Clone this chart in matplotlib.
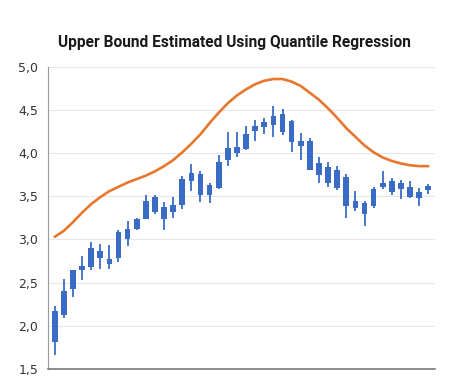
import matplotlib
matplotlib.use("Agg")
import matplotlib.pyplot as plt
import numpy as np
from matplotlib.ticker import FuncFormatter

# candle data (one entry per period)
body_low = [1.81, 2.12, 2.42, 2.65, 2.68, 2.78, 2.72, 2.78, 3.00, 3.12, 3.24, 3.32,
            3.24, 3.32, 3.40, 3.68, 3.52, 3.51, 3.60, 3.92, 4.00, 4.05, 4.26, 4.30,
            4.33, 4.24, 4.13, 4.08, 3.81, 3.75, 3.66, 3.60, 3.39, 3.36, 3.29, 3.39,
            3.61, 3.55, 3.58, 3.49, 3.48, 3.57]
body_high = [2.17, 2.40, 2.64, 2.69, 2.90, 2.87, 2.77, 3.09, 3.12, 3.24, 3.45, 3.49,
             3.38, 3.40, 3.70, 3.77, 3.76, 3.63, 3.90, 4.06, 4.07, 4.22, 4.32, 4.36,
             4.43, 4.45, 4.37, 4.14, 4.14, 3.89, 3.84, 3.81, 3.72, 3.44, 3.42, 3.58,
             3.66, 3.68, 3.66, 3.61, 3.55, 3.62]
wick_low = [1.66, 2.09, 2.33, 2.53, 2.64, 2.66, 2.66, 2.74, 2.92, 3.11, 3.24, 3.30,
            3.11, 3.25, 3.35, 3.56, 3.43, 3.42, 3.58, 3.85, 3.96, 4.04, 4.14, 4.22,
            4.19, 4.21, 4.01, 3.92, 3.80, 3.66, 3.61, 3.57, 3.25, 3.33, 3.16, 3.36,
            3.59, 3.51, 3.47, 3.48, 3.39, 3.53]
wick_high = [2.23, 2.54, 2.65, 2.81, 2.97, 2.95, 2.94, 3.11, 3.21, 3.25, 3.52, 3.52,
             3.43, 3.49, 3.73, 3.87, 3.79, 3.66, 3.98, 4.25, 4.24, 4.32, 4.38, 4.41,
             4.55, 4.51, 4.38, 4.23, 4.18, 3.96, 3.90, 3.85, 3.76, 3.56, 3.45, 3.61,
             3.79, 3.71, 3.69, 3.68, 3.60, 3.64]

# quantile regression curve (upper bound), one value per period
upper_bound = [3.03, 3.10, 3.20, 3.31, 3.41, 3.49, 3.56, 3.61, 3.66, 3.70, 3.74, 3.79,
               3.85, 3.92, 4.01, 4.11, 4.22, 4.35, 4.47, 4.58, 4.67, 4.74, 4.80, 4.84,
               4.86, 4.86, 4.83, 4.78, 4.70, 4.62, 4.52, 4.41, 4.29, 4.19, 4.09, 4.01,
               3.95, 3.91, 3.88, 3.86, 3.85, 3.85]

yticks = [1.5, 2.0, 2.5, 3.0, 3.5, 4.0, 4.5, 5.0]

BLUE = "#3a6cc6"
ORANGE = "#e8772e"

fig = plt.figure(figsize=(4.74, 3.87), dpi=100)
ax = fig.add_axes([0.101, 0.047, 0.817, 0.780])

x = np.arange(len(body_low))
lo = np.array(body_low)
hi = np.array(body_high)

ax.vlines(x, wick_low, wick_high, color=BLUE, linewidth=1.3, zorder=3)
ax.bar(x, hi - lo, bottom=lo, width=0.62, color=BLUE, zorder=4)
ax.plot(x, upper_bound, color=ORANGE, linewidth=1.9, zorder=5,
        solid_capstyle="round", solid_joinstyle="round")

ax.set_xlim(-0.75, len(x) - 0.25)
ax.set_ylim(1.5, 5.0)
ax.set_yticks(yticks)
ax.yaxis.set_major_formatter(FuncFormatter(lambda v, _: f"{v:.1f}".replace(".", ",")))
ax.set_xticks([])
ax.tick_params(axis="y", length=0, pad=7, labelsize=9, labelcolor="#333333")
ax.grid(axis="y", color="#e6e6e6", linewidth=0.8)
ax.set_axisbelow(True)

for side in ("top", "right"):
    ax.spines[side].set_visible(False)
ax.spines["left"].set_color("#9a9a9a")
ax.spines["bottom"].set_color("#7a7a7a")
ax.spines["bottom"].set_linewidth(1.2)

fig.text(0.494, 0.891, "Upper Bound Estimated Using Quantile Regression",
         ha="center", va="center", fontsize=11.2, fontweight="semibold",
         color="#1a1a1a", family=["Roboto", "DejaVu Sans"])

fig.savefig("out.png", dpi=100, facecolor="white")
